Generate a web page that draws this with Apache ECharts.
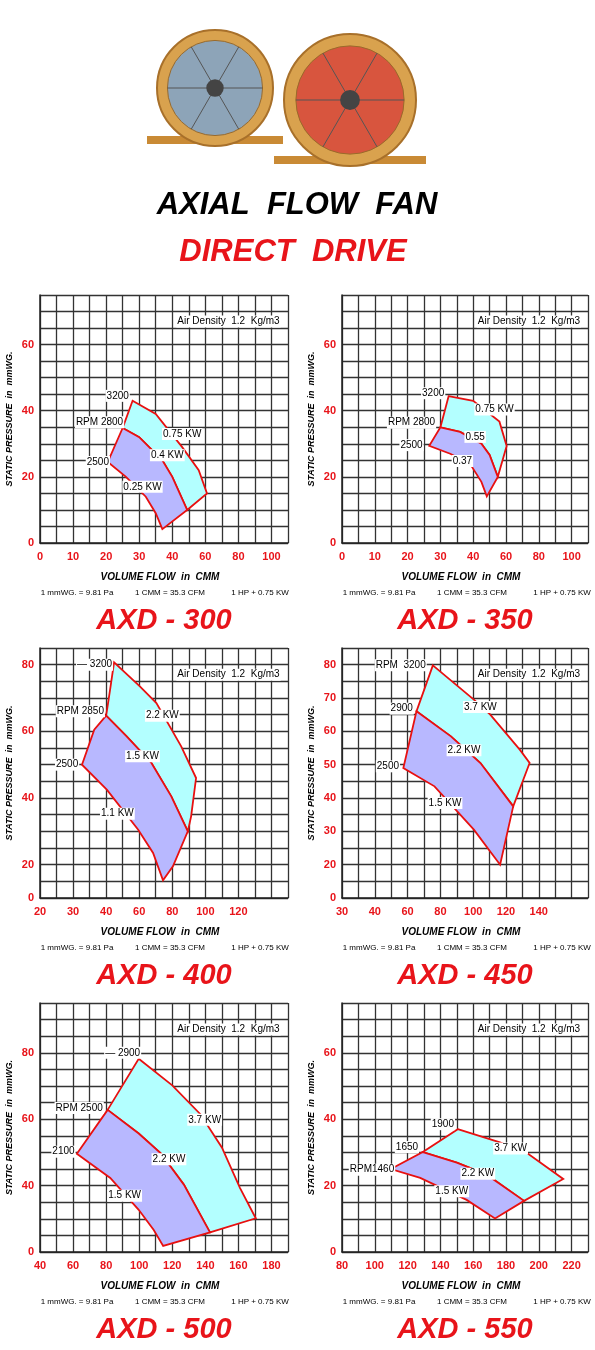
<!DOCTYPE html>
<html><head><meta charset="utf-8">
<script src="https://cdn.jsdelivr.net/npm/echarts@6/dist/echarts.min.js"></script>
<style>html,body{margin:0;padding:0;background:#fff}#c{width:595px;height:1350px}</style>
</head><body><div id="c"></div>
<script>
// ---------- DATA ----------
const COLS = [0,2,4,6,8,10,12,14];
// AXD-300
const AXD300_XT = [0,10,20,30,40,60,80,100], AXD300_XC = COLS;
const AXD300_YT = [0,20,40,60], AXD300_YR = [0,4,8,12];
const AXD300_TOP = [[28,43],[35,39],[46,29],[56,22],[61,15]];
const AXD300_MID = [[25,34.8],[30,32],[37,25],[40,20],[49,10]];
const AXD300_BOT = [[20.5,24.5],[26,20],[32,14],[35,9],[37,4.2]];
const AXD300_TXT = ['3200','RPM 2800','2500','0.75 KW','0.4 KW','0.25 KW'];
const AXD300_TXY = [[23.5,44.5],[18,36.5],[17.5,24.5],[46,33],[38.5,26.5],[31,17]];
// AXD-350
const AXD350_XT = [0,10,20,30,40,60,80,100], AXD350_XC = COLS;
const AXD350_YT = [0,20,40,60], AXD350_YR = [0,4,8,12];
const AXD350_TOP = [[32.5,44.4],[40,43],[56,36.7],[60.4,29.3],[55,20]];
const AXD350_MID = [[30,35],[36,33.6],[45,30],[50,26.6],[55,20]];
const AXD350_BOT = [[26.6,29.4],[33,27],[39,24],[45,18.5],[48.3,14.1]];
const AXD350_TXT = ['3200','RPM 2800','2500','0.75 KW','0.55','0.37'];
const AXD350_TXY = [[27.8,45.3],[21.2,36.4],[21.2,29.6],[53,40.4],[41.2,32.1],[36.7,24.8]];
// AXD-400
const AXD400_XT = [20,30,40,60,80,100,120], AXD400_XC = [0,2,4,6,8,10,12];
const AXD400_YT = [0,20,40,60,80], AXD400_YR = [0,2,6,10,14];
const AXD400_TOP = [[40.4,66],[42.4,72.5],[44.8,80.7],[60.4,73.5],[70.4,68.5],[85.4,55.5],[94.4,46],[91.4,34.5]];
const AXD400_MID = [[40,64.7],[52.4,58.5],[67.4,50.5],[79.4,40.5],[89.4,30]];
const AXD400_BOT = [[36.4,60.5],[32.7,50],[40.4,42.5],[59.4,30.5],[68.4,23.5],[74.4,10.6],[80.4,19]];
const AXD400_TXT = ['— 3200','RPM 2850','2500','2.2 KW','1.5 KW','1.1 KW'];
const AXD400_TXY = [[36.5,80],[32.2,66],[28.2,50],[74,64.7],[62,52.5],[46.8,35.3]];
// AXD-450
const AXD450_XT = [30,40,60,80,100,120,140], AXD450_XC = [0,2,4,6,8,10,12];
const AXD450_YT = [0,20,30,40,50,60,70,80], AXD450_YR = COLS;
const AXD450_TOP = [[75.4,79.8],[100.4,69.5],[110.4,65],[128.4,54.5],[134.4,50.5]];
const AXD450_MID = [[65.4,66],[86.4,58.5],[104.4,50.5],[124.4,37.5]];
const AXD450_BOT = [[57.4,49],[76.4,43.5],[100.4,30.5],[116.4,20]];
const AXD450_TXT = ['RPM  3200','2900','2500','3.7 KW','2.2 KW','1.5 KW'];
const AXD450_TXY = [[55.8,79.8],[56.4,66.8],[48,49.5],[104.4,67.3],[94.4,54.3],[82.8,38.5]];
// AXD-500
const AXD500_XT = [40,60,80,100,120,140,160,180], AXD500_XC = COLS;
const AXD500_YT = [0,40,60,80], AXD500_YR = [0,4,8,12];
const AXD500_TOP = [[99.7,78.2],[120,70.2],[137,61.5],[150,51.5],[161,38.5],[170.5,20.3]];
const AXD500_MID = [[80.9,62.8],[99.7,55.7],[112.9,49.8],[127,40.3],[142.8,11.8]];
const AXD500_BOT = [[62.3,49.6],[82.5,42.3],[99.7,25.4],[108.8,13.2],[114.5,3.7]];
const AXD500_TXT = ['— 2900','RPM 2500','2100','3.7 KW','2.2 KW','1.5 KW'];
const AXD500_TXY = [[90,80],[63.7,63.4],[54.2,50.2],[139.6,59.8],[118,47.9],[91.2,33.9]];
// AXD-550
const AXD550_XT = [80,100,120,140,160,180,200,220], AXD550_XC = COLS;
const AXD550_YT = [0,20,40,60], AXD550_YR = [0,4,8,12];
const AXD550_TOP = [[150.6,37],[176.3,33],[192.6,29.9],[214.9,22],[191,15.4]];
const AXD550_MID = [[129.3,30.1],[150,26.9],[168.2,23.3],[191,15.4]];
const AXD550_BOT = [[109.8,25],[127.7,22.3],[156,15.7],[173.3,10.1]];
const AXD550_TXT = ['1900','1650','RPM1460','3.7 KW','2.2 KW','1.5 KW'];
const AXD550_TXY = [[141.5,38.5],[119.6,31.6],[98.3,24.8],[182.8,31.2],[162.8,23.6],[146.9,18.3]];

// ---------- LAYOUT ----------
const PANELS = [
  {n:'AXD - 300',xt:AXD300_XT,xc:AXD300_XC,yt:AXD300_YT,yr:AXD300_YR,top:AXD300_TOP,mid:AXD300_MID,bot:AXD300_BOT,txt:AXD300_TXT,txy:AXD300_TXY,l:40,t:295,w:248,h:248},
  {n:'AXD - 350',xt:AXD350_XT,xc:AXD350_XC,yt:AXD350_YT,yr:AXD350_YR,top:AXD350_TOP,mid:AXD350_MID,bot:AXD350_BOT,txt:AXD350_TXT,txy:AXD350_TXY,l:342,t:295,w:246,h:248},
  {n:'AXD - 400',xt:AXD400_XT,xc:AXD400_XC,yt:AXD400_YT,yr:AXD400_YR,top:AXD400_TOP,mid:AXD400_MID,bot:AXD400_BOT,txt:AXD400_TXT,txy:AXD400_TXY,l:40,t:648,w:248,h:250},
  {n:'AXD - 450',xt:AXD450_XT,xc:AXD450_XC,yt:AXD450_YT,yr:AXD450_YR,top:AXD450_TOP,mid:AXD450_MID,bot:AXD450_BOT,txt:AXD450_TXT,txy:AXD450_TXY,l:342,t:648,w:246,h:250},
  {n:'AXD - 500',xt:AXD500_XT,xc:AXD500_XC,yt:AXD500_YT,yr:AXD500_YR,top:AXD500_TOP,mid:AXD500_MID,bot:AXD500_BOT,txt:AXD500_TXT,txy:AXD500_TXY,l:40,t:1003,w:248,h:249},
  {n:'AXD - 550',xt:AXD550_XT,xc:AXD550_XC,yt:AXD550_YT,yr:AXD550_YR,top:AXD550_TOP,mid:AXD550_MID,bot:AXD550_BOT,txt:AXD550_TXT,txy:AXD550_TXY,l:342,t:1003,w:246,h:249}
];
function interp(v, vals, pos){
  let i = 0;
  while (i < vals.length-2 && v > vals[i+1]) i++;
  return pos[i] + (v-vals[i])*(pos[i+1]-pos[i])/(vals[i+1]-vals[i]);
}
const FONT = '"Liberation Sans", Arial, sans-serif';
const grids=[], xAxes=[], yAxes=[], series=[], graphics=[];
PANELS.forEach((p,i)=>{
  grids.push({left:p.l, top:p.t, width:p.w, height:p.h});
  const toG = pt => [interp(pt[0],p.xt,p.xc), interp(pt[1],p.yt,p.yr)];
  const axBase = {min:0,max:15,interval:1,gridIndex:i,
    axisLine:{lineStyle:{color:'#222',width:1.5}},axisTick:{show:false},
    splitLine:{show:true,lineStyle:{color:'#333',width:1.3}}};
  xAxes.push(Object.assign({type:'value',axisLabel:{color:'#e8141a',fontWeight:'bold',fontSize:11,fontFamily:FONT,margin:8,
    formatter:v=>{const k=p.xc.indexOf(v);return k>=0?String(p.xt[k]):'';}}},axBase));
  yAxes.push(Object.assign({type:'value',axisLabel:{color:'#e8141a',fontWeight:'bold',fontSize:11,fontFamily:FONT,margin:6,
    formatter:v=>{const k=p.yr.indexOf(v);return k>=0?String(p.yt[k]):'';}}},axBase));
  const upper = p.top.concat(p.mid.slice().reverse()).map(toG);
  const lower = p.mid.concat(p.bot.slice().reverse()).map(toG);
  [[upper,'#b3ffff'],[lower,'#b8b8ff']].forEach(([poly,col])=>{
    series.push({type:'custom',xAxisIndex:i,yAxisIndex:i,data:[[0,0]],silent:true,z:3,
      renderItem:(params,api)=>({type:'polygon',shape:{points:poly.map(q=>api.coord(q))},
        style:{fill:col,stroke:'#e81010',lineWidth:1.8}})});
  });
  const lab = p.txy.map((q,k)=>toG(q).concat([p.txt[k]]));
  lab.push([11.4,13.4,'Air Density  1.2  Kg/m3']);
  series.push({type:'custom',xAxisIndex:i,yAxisIndex:i,data:lab,silent:true,z:6,
    renderItem:(params,api)=>{const c=api.coord([api.value(0),api.value(1)]);
      return {type:'text',x:c[0],y:c[1],z2:10,style:{text:lab[params.dataIndex][2],font:'10px '+FONT,fill:'#000',
        align:'center',verticalAlign:'middle',backgroundColor:'#fff',padding:[1,1]}};}});
  const cx = p.l + p.w/2 - 4;
  const b = p.t + p.h;
  graphics.push({type:'text',x:cx,y:b+34,style:{text:'VOLUME FLOW  in  CMM',font:'italic bold 10px '+FONT,fill:'#000',textAlign:'center',textVerticalAlign:'middle'}});
  const fx = p.l<200?0:302;
  [['1 mmWG. = 9.81 Pa',77],['1 CMM = 35.3 CFM',170],['1 HP + 0.75 KW',260]].forEach(([t,x])=>
    graphics.push({type:'text',x:fx+x,y:b+50,style:{text:t,font:'8px '+FONT,fill:'#000',textAlign:'center',textVerticalAlign:'middle'}}));
  graphics.push({type:'text',x:cx+4,y:b+78,style:{text:p.n,font:'italic bold 29px '+FONT,fill:'#e8141a',textAlign:'center',textVerticalAlign:'middle'}});
  graphics.push({type:'text',x:p.l-30,y:p.t+p.h/2,rotation:Math.PI/2,style:{text:'STATIC PRESSURE  in  mmWG.',font:'italic bold 9px '+FONT,fill:'#000',textAlign:'center',textVerticalAlign:'middle'}});
});
// header
graphics.push({type:'text',x:297,y:190,style:{text:'AXIAL  FLOW  FAN',font:'italic bold 31px '+FONT,fill:'#000',textAlign:'center'}});
graphics.push({type:'text',x:293,y:237,style:{text:'DIRECT  DRIVE',font:'italic bold 31px '+FONT,fill:'#e8141a',textAlign:'center'}});
// simple fan illustration
function fan(cx,cy,r,inner){
  graphics.push({type:'rect',shape:{x:cx-r-10,y:cy+r-10,width:2*r+20,height:8},style:{fill:'#c98a35'}});
  graphics.push({type:'circle',shape:{cx:cx,cy:cy,r:r},style:{fill:'#d9a24e',stroke:'#a8702a',lineWidth:2}});
  graphics.push({type:'circle',shape:{cx:cx,cy:cy,r:r*0.82},style:{fill:inner,stroke:'#9a6a2a',lineWidth:1}});
  for(let k=0;k<6;k++){const a=k*Math.PI/3;
    graphics.push({type:'line',shape:{x1:cx,y1:cy,x2:cx+Math.cos(a)*r*0.82,y2:cy+Math.sin(a)*r*0.82},style:{stroke:'#555',lineWidth:1}});}
  graphics.push({type:'circle',shape:{cx:cx,cy:cy,r:r*0.15},style:{fill:'#444'}});
}
fan(215,88,58,'#8da4b8');
fan(350,100,66,'#d8553e');

const chart = echarts.init(document.getElementById('c'),null,{renderer:'canvas'});
chart.setOption({animation:false,grid:grids,xAxis:xAxes,yAxis:yAxes,series:series,graphic:graphics});
</script></body></html>
